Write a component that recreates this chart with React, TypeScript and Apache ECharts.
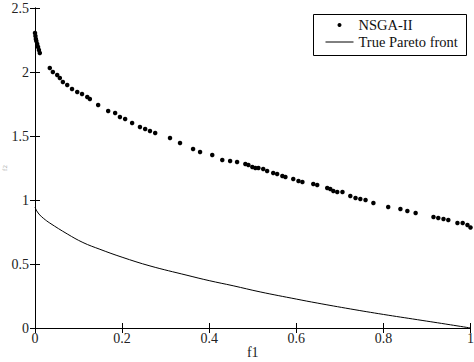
import React, { useEffect, useRef } from "react";
import * as echarts from "echarts";

const xTicks = [0, 0.2, 0.4, 0.6, 0.8, 1];
const yTicks = [0, 0.5, 1, 1.5, 2, 2.5];

const nsgaF1 = [
  0, 0.001, 0.002, 0.003, 0.005, 0.007, 0.009, 0.011,
  0.034, 0.041, 0.051, 0.057, 0.064, 0.074, 0.085, 0.097, 0.108, 0.12, 0.126,
  0.145, 0.168, 0.184, 0.195, 0.207, 0.223, 0.241, 0.253, 0.264, 0.276,
  0.31, 0.333, 0.363, 0.379, 0.407, 0.43, 0.448, 0.464, 0.483, 0.49, 0.499,
  0.506, 0.513, 0.524, 0.533, 0.547, 0.556, 0.568, 0.575, 0.593, 0.605, 0.614,
  0.639, 0.648, 0.671, 0.678, 0.685, 0.694, 0.706, 0.724, 0.736, 0.747, 0.759,
  0.777, 0.811, 0.839, 0.855, 0.874, 0.915, 0.926, 0.938, 0.949, 0.97, 0.982,
  0.993, 1.0,
];
const nsgaF2 = [
  2.305, 2.281, 2.258, 2.242, 2.219, 2.195, 2.172, 2.148,
  2.031, 2.0, 1.977, 1.953, 1.922, 1.898, 1.867, 1.844, 1.828, 1.805, 1.789,
  1.742, 1.695, 1.68, 1.648, 1.633, 1.602, 1.57, 1.555, 1.539, 1.523,
  1.484, 1.445, 1.398, 1.375, 1.352, 1.313, 1.305, 1.297, 1.281, 1.273, 1.258,
  1.25, 1.25, 1.242, 1.227, 1.211, 1.203, 1.188, 1.18, 1.164, 1.148, 1.141,
  1.125, 1.117, 1.094, 1.086, 1.07, 1.063, 1.063, 1.031, 1.016, 1.008, 1.0,
  0.977, 0.945, 0.93, 0.914, 0.898, 0.867, 0.859, 0.852, 0.844, 0.82, 0.82,
  0.805, 0.785,
];

const trueF1 = [
  0, 0.004, 0.011, 0.02, 0.034, 0.074, 0.11, 0.149, 0.2, 0.264, 0.349, 0.4,
  0.455, 0.517, 0.6, 0.648, 0.724, 0.8, 0.878, 0.954, 1.0,
];
const trueF2 = [
  0.945, 0.915, 0.883, 0.855, 0.82, 0.735, 0.668, 0.615, 0.553, 0.485, 0.412,
  0.37, 0.33, 0.282, 0.226, 0.195, 0.149, 0.106, 0.065, 0.025, 0.0,
];

const seriesNames = ["NSGA-II", "True Pareto front"];

const FONT = "Liberation Serif";

export default function App() {
  const ref = useRef<HTMLDivElement>(null);

  useEffect(() => {
    if (!ref.current) return;
    const chart = echarts.init(ref.current, undefined, { renderer: "svg" });
    const nsgaData = nsgaF1.map((x, i) => [x, nsgaF2[i]]);
    const trueData = trueF1.map((x, i) => [x, trueF2[i]]);
    const xInt = xTicks[1] - xTicks[0];
    const yInt = yTicks[1] - yTicks[0];
    const fmt = (v: number) => String(parseFloat(v.toFixed(2)));

    const axisCommon = {
      axisLine: { show: true, lineStyle: { color: "#000", width: 1 } },
      axisTick: { show: true, inside: true, length: 5, lineStyle: { color: "#000" } },
      splitLine: { show: false },
    };

    chart.setOption({
      animation: false,
      backgroundColor: "#fff",
      textStyle: { fontFamily: FONT },
      grid: {
        left: 35,
        right: 3.5,
        top: 8,
        bottom: 34,
        containLabel: false,
        outerBoundsMode: "none",
      },
      xAxis: [
        {
          type: "value",
          min: xTicks[0],
          max: xTicks[xTicks.length - 1],
          interval: xInt,
          ...axisCommon,
          axisLabel: {
            color: "#222",
            fontFamily: FONT,
            fontSize: 14,
            margin: 3,
            formatter: fmt,
          },
          name: "f1",
          nameLocation: "middle",
          nameGap: 17,
          nameMoveOverlap: false,
          nameTextStyle: { color: "#222", fontFamily: FONT, fontSize: 14 },
        },
        {
          type: "value",
          position: "top",
          min: xTicks[0],
          max: xTicks[xTicks.length - 1],
          interval: xInt,
          ...axisCommon,
          axisLabel: { show: false },
        },
      ],
      yAxis: [
        {
          type: "value",
          min: yTicks[0],
          max: yTicks[yTicks.length - 1],
          interval: yInt,
          ...axisCommon,
          axisLabel: {
            color: "#222",
            fontFamily: FONT,
            fontSize: 14,
            margin: 6,
            formatter: fmt,
          },
          name: "f2",
          nameLocation: "middle",
          nameGap: 27,
          nameMoveOverlap: false,
          nameTextStyle: { color: "#aaa", fontFamily: FONT, fontSize: 7 },
        },
        {
          type: "value",
          position: "right",
          min: yTicks[0],
          max: yTicks[yTicks.length - 1],
          interval: yInt,
          ...axisCommon,
          axisLabel: { show: false },
        },
      ],
      legend: {
        orient: "vertical",
        left: 325,
        top: 16.5,
        padding: 0,
        itemGap: 0,
        itemWidth: 28,
        itemHeight: 4,
        textStyle: { fontFamily: FONT, fontSize: 14.5, color: "#111", lineHeight: 17 },
        data: [
          { name: seriesNames[0], icon: "circle", itemStyle: { color: "#000", opacity: 1 } },
          {
            name: seriesNames[1],
            itemStyle: { opacity: 0 },
            lineStyle: { color: "#000", width: 1, opacity: 1 },
          },
        ],
        z: 10,
      },
      graphic: [
        {
          type: "rect",
          z: 5,
          shape: { x: 313.5, y: 14.5, width: 153, height: 41 },
          style: { fill: "#fff", stroke: "#000", lineWidth: 1 },
        },
      ],
      series: [
        {
          name: seriesNames[0],
          type: "scatter",
          data: nsgaData,
          symbol: "circle",
          symbolSize: 4.5,
          itemStyle: { color: "#000", opacity: 1 },
        },
        {
          name: seriesNames[1],
          type: "line",
          data: trueData,
          smooth: 0.4,
          symbol: "none",
          showSymbol: false,
          lineStyle: { color: "#000", width: 1 },
          itemStyle: { color: "#000" },
        },
      ],
    });

    return () => chart.dispose();
  }, []);

  return (
    <div
      ref={ref}
      style={{ position: "fixed", left: 0, top: 0, width: 474, height: 362, background: "#fff" }}
    />
  );
}
